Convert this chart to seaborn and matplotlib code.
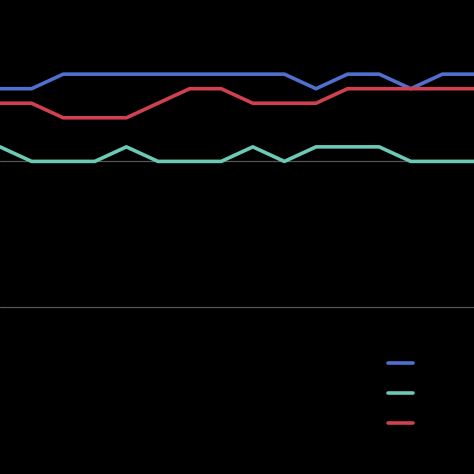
import numpy as np
import pandas as pd
import matplotlib
matplotlib.use("Agg")
import matplotlib.pyplot as plt
import seaborn as sns

# datos
periodos = list(range(16))
serie_azul = [75, 75, 80, 80, 80, 80, 80, 80, 80, 80, 75, 80, 80, 75, 80, 80]
serie_verde = [55, 50, 50, 50, 55, 50, 50, 50, 55, 50, 55, 55, 55, 50, 50, 50]
serie_roja = [70, 70, 65, 65, 65, 70, 75, 75, 70, 70, 70, 75, 75, 75, 75, 75]
nombres = ["A", "B", "C"]
colores = ["#5070d0", "#6cc9b5", "#d0404e"]

df = pd.DataFrame({
    "periodo": periodos * 3,
    "valor": serie_azul + serie_verde + serie_roja,
    "serie": [nombres[0]] * 16 + [nombres[1]] * 16 + [nombres[2]] * 16,
})

sns.set_style("dark", {"axes.facecolor": "black", "figure.facecolor": "black"})

fig = plt.figure(figsize=(4.74, 4.74), dpi=100)
ax = fig.add_axes([0, 0, 1, 1])
sns.lineplot(data=df, x="periodo", y="valor", hue="serie",
             palette=colores, linewidth=2.6, ax=ax)

ax.set_xlim(0, 15)
ax.set_ylim(-57.5, 105.5)
ax.set_yticks([0, 50])
ax.set_xticks([])
ax.grid(axis="y", color="#555555", linewidth=0.9)
ax.grid(axis="x", visible=False)
ax.set_axisbelow(True)
ax.tick_params(left=False, labelleft=False)
ax.set_xlabel("")
ax.set_ylabel("")
for s in ax.spines.values():
    s.set_visible(False)

leg = ax.legend(loc="lower right", bbox_to_anchor=(0.949, 0.0605), frameon=False,
                handlelength=1.65, labelspacing=1.0, fontsize=11,
                handletextpad=0.8, borderaxespad=0.5)
for t in leg.get_texts():
    t.set_color("black")
for h in leg.get_lines():
    h.set_linewidth(2.6)

fig.savefig("out.png", dpi=100, facecolor="black")
